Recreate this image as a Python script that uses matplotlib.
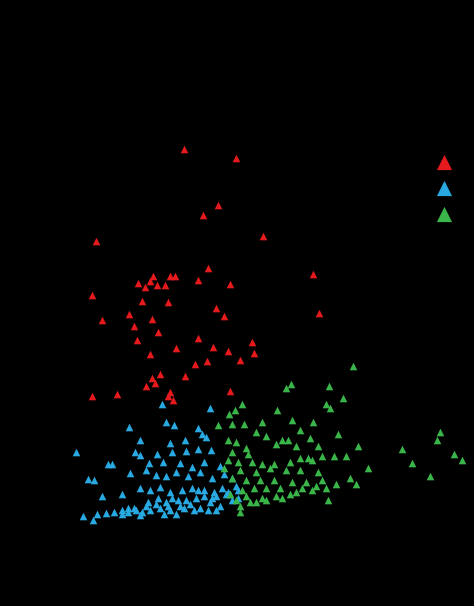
import numpy as np
import matplotlib
matplotlib.use("Agg")
import matplotlib.pyplot as plt

# values (x, y in chart units)
red_x = [184,236,96,203,218,263,313,208,153,150,170,175,138,145,157,165,198,230,92,142,168,216,102,129,152,224,319,134,158,137,198,176,213,252,150,228,254,207,240,195,185,160,152,155,146,170,168,173,92,117,230]
red_y = [149,158,241,215,205,236,274,268,276,281,276,276,283,287,285,285,280,284,295,301,302,308,320,314,319,316,313,326,332,340,338,348,347,342,354,351,353,361,360,364,376,374,378,383,386,392,396,400,396,394,391]

blue_x = [162,210,129,166,174,198,202,206,140,185,170,76,135,140,157,172,186,198,211,108,112,149,163,180,192,204,220,88,94,130,146,156,166,176,188,200,212,224,232,122,102,140,150,160,170,182,192,204,214,222,230,238,83,93,97,106,114,122,128,134,140,146,150,156,160,166,170,176,180,186,190,196,200,204,210,216,220,226,232,238,142,164,178,194,208,216,158,172,198,236,122,128,136,148,168,184,212,228]
blue_y = [404,408,427,422,425,428,434,437,440,440,443,452,452,455,454,452,451,449,450,464,464,463,462,463,467,462,466,479,480,473,470,475,476,472,476,472,478,474,478,494,496,488,490,487,492,490,488,490,492,488,494,490,516,520,514,513,512,510,512,508,515,506,510,504,508,502,510,514,506,500,504,498,508,496,502,496,506,494,500,498,512,514,500,510,510,510,498,498,490,486,514,508,510,502,506,508,498,492]

green_x = [353,291,286,329,343,242,235,229,326,330,277,218,232,244,262,292,300,313,256,282,288,310,338,228,236,246,232,248,266,276,296,318,358,402,437,440,454,462,412,430,368,346,334,322,308,228,238,252,262,274,290,312,224,240,256,270,286,300,318,350,356,232,246,260,274,292,306,322,336,242,254,266,280,296,312,326,230,246,262,276,290,236,250,266,282,240,256,240,328,316,302,300]
green_y = [366,384,388,386,398,404,410,414,404,408,410,425,424,424,422,420,430,422,432,440,440,438,434,440,442,448,452,454,436,444,446,446,446,449,440,432,454,460,463,476,468,456,456,456,458,460,462,462,464,464,462,460,468,470,472,468,470,470,472,478,484,478,480,480,480,482,482,480,484,490,488,488,488,492,490,488,494,496,498,496,494,500,502,500,498,506,502,512,500,486,488,458]

series = [
    ("1", red_x, red_y, "#E41A1C"),
    ("2", blue_x, blue_y, "#29A9E1"),
    ("3", green_x, green_y, "#3AB54A"),
]

fig = plt.figure(figsize=(4.74, 6.06), dpi=100, facecolor="black")
ax = fig.add_axes([0, 0, 1, 1], facecolor="black")
for name, xs, ys, col in series:
    ax.scatter(xs, ys, marker="^", s=30, color=col, linewidths=0, label=name)
ax.set_xlim(0, 474)
ax.set_ylim(606, 0)
ax.axis("off")

leg = ax.legend(loc="upper left", bbox_to_anchor=(0.893, 0.758), frameon=False,
                markerscale=2.0, labelspacing=1.45, handletextpad=0.2,
                labelcolor="black", fontsize=8)

fig.savefig("out.png", dpi=100, facecolor="black")
